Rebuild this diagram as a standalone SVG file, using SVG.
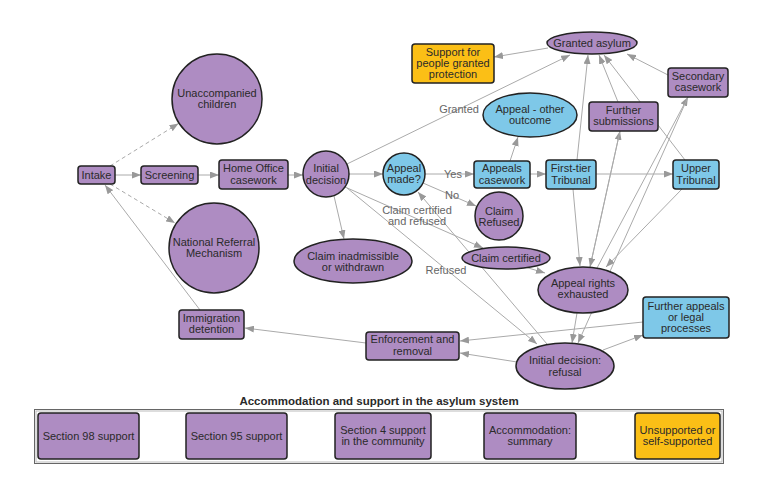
<svg xmlns="http://www.w3.org/2000/svg" width="768" height="495" viewBox="0 0 768 495">
<defs>
<style>
.p{fill:#ae8cc2;stroke:#222;stroke-width:1.5}
.b{fill:#7ec8e8;stroke:#222;stroke-width:1.5}
.o{fill:#fbbf16;stroke:#222;stroke-width:1.5}
text{font-family:"Liberation Sans",Arial,sans-serif;font-size:11px;fill:#2a2a2a;text-anchor:middle}
.lbl{fill:#666}
.e line{stroke:#aaa;stroke-width:1;marker-end:url(#ah)}
.e line.d{stroke-dasharray:4,3}
</style>
<marker id="ah" markerUnits="userSpaceOnUse" markerWidth="9" markerHeight="7" refX="9" refY="3.5" orient="auto">
<path d="M0,0 L9,3.5 L0,7 z" fill="#999"/>
</marker>
</defs>
<rect width="768" height="495" fill="#fff"/>
<g id="connectors" class="e">
<line x1="115" y1="175" x2="141" y2="175"/>
<line x1="198" y1="175" x2="219" y2="175"/>
<line x1="288" y1="175" x2="303" y2="175"/>
<line class="d" x1="110" y1="166" x2="178.5" y2="123.5"/>
<line class="d" x1="110" y1="184" x2="175" y2="223"/>
<line x1="200" y1="310" x2="105" y2="185"/>
<line x1="366" y1="343" x2="245" y2="328"/>
<line x1="349" y1="174" x2="383" y2="174"/>
<line x1="425" y1="174" x2="474" y2="174"/>
<line x1="423" y1="183" x2="476" y2="206"/>
<line x1="510" y1="161" x2="518" y2="137"/>
<line x1="530" y1="174" x2="546" y2="174"/>
<line x1="596" y1="174" x2="673" y2="174"/>
<line x1="347" y1="164" x2="570" y2="55"/>
<line x1="548" y1="48" x2="494" y2="57"/>
<line x1="334" y1="196" x2="344" y2="239"/>
<line x1="345" y1="187" x2="483" y2="248"/>
<line x1="347" y1="188" x2="537" y2="344"/>
<line x1="547" y1="344" x2="418" y2="192"/>
<line x1="525" y1="267" x2="545" y2="273"/>
<line x1="573" y1="189" x2="580" y2="266"/>
<line x1="577" y1="160" x2="588" y2="55"/>
<line x1="618" y1="102" x2="599" y2="55"/>
<line x1="685" y1="160" x2="604" y2="55"/>
<line x1="668" y1="75" x2="627" y2="54"/>
<line x1="590" y1="267" x2="620" y2="131"/>
<line x1="620" y1="131" x2="590" y2="267"/>
<line x1="682" y1="189" x2="606" y2="267"/>
<line x1="597" y1="268" x2="688" y2="97"/>
<line x1="688" y1="97" x2="578" y2="343"/>
<line x1="577" y1="313" x2="572" y2="343"/>
<line x1="603" y1="350" x2="643" y2="335"/>
<line x1="643" y1="322" x2="460" y2="341"/>
<line x1="517" y1="362" x2="460" y2="353"/>
</g>
<g id="edge-labels">
<text class="lbl" x="459" y="113">Granted</text>
<text class="lbl" x="453" y="178">Yes</text>
<text class="lbl" x="452" y="199">No</text>
<text class="lbl" x="417" y="214">Claim certified</text>
<text class="lbl" x="417" y="225">and refused</text>
<text class="lbl" x="446" y="274">Refused</text>
</g>
<g id="intake"><rect class="p" x="78" y="166" width="37" height="18" rx="3"/><text x="96.5" y="179">Intake</text></g>
<g id="screening"><rect class="p" x="141" y="166" width="57" height="18" rx="3"/><text x="169.5" y="179">Screening</text></g>
<g id="home-office-casework"><rect class="p" x="219" y="160" width="69" height="29" rx="3"/><text x="253.5" y="172">Home Office</text><text x="253.5" y="184">casework</text></g>
<g id="initial-decision"><circle class="p" cx="326" cy="174" r="23"/><text x="326" y="172">Initial</text><text x="326" y="184">decision</text></g>
<g id="unaccompanied-children"><circle class="p" cx="217" cy="99" r="45"/><text x="217" y="97">Unaccompanied</text><text x="217" y="108">children</text></g>
<g id="national-referral-mechanism"><circle class="p" cx="214" cy="248" r="45"/><text x="214" y="246">National Referral</text><text x="214" y="257">Mechanism</text></g>
<g id="immigration-detention"><rect class="p" x="179" y="310" width="65" height="29" rx="3"/><text x="211.5" y="322">Immigration</text><text x="211.5" y="333">detention</text></g>
<g id="support-granted"><rect class="o" x="412" y="44" width="82" height="39" rx="3"/><text x="453" y="56">Support for</text><text x="453" y="67">people granted</text><text x="453" y="78">protection</text></g>
<g id="granted-asylum"><ellipse class="p" cx="592" cy="43" rx="45" ry="11"/><text x="592" y="47">Granted asylum</text></g>
<g id="appeal-other-outcome"><ellipse class="b" cx="530" cy="115" rx="47" ry="22"/><text x="530" y="113">Appeal - other</text><text x="530" y="124">outcome</text></g>
<g id="appeal-made"><circle class="b" cx="404" cy="174" r="21"/><text x="404" y="172">Appeal</text><text x="404" y="183">made?</text></g>
<g id="appeals-casework"><rect class="b" x="474" y="161" width="56" height="27" rx="3"/><text x="502" y="172">Appeals</text><text x="502" y="184">casework</text></g>
<g id="first-tier-tribunal"><rect class="b" x="546" y="160" width="50" height="29" rx="3"/><text x="571" y="172">First-tier</text><text x="571" y="184">Tribunal</text></g>
<g id="upper-tribunal"><rect class="b" x="673" y="160" width="46" height="29" rx="3"/><text x="696" y="172">Upper</text><text x="696" y="184">Tribunal</text></g>
<g id="further-submissions"><rect class="p" x="589" y="102" width="69" height="29" rx="3"/><text x="623.5" y="114">Further</text><text x="623.5" y="125">submissions</text></g>
<g id="secondary-casework"><rect class="p" x="668" y="68" width="60" height="29" rx="3"/><text x="698" y="80">Secondary</text><text x="698" y="91">casework</text></g>
<g id="claim-refused"><circle class="p" cx="499" cy="216" r="24"/><text x="499" y="215">Claim</text><text x="499" y="226">Refused</text></g>
<g id="claim-inadmissible"><ellipse class="p" cx="353" cy="261" rx="59" ry="22"/><text x="353" y="260">Claim inadmissible</text><text x="353" y="271">or withdrawn</text></g>
<g id="claim-certified"><ellipse class="p" cx="506" cy="258" rx="44" ry="11"/><text x="506" y="262">Claim certified</text></g>
<g id="appeal-rights-exhausted"><ellipse class="p" cx="583" cy="290" rx="45" ry="23"/><text x="583" y="287">Appeal rights</text><text x="583" y="298">exhausted</text></g>
<g id="further-appeals"><rect class="b" x="643" y="297" width="86" height="41" rx="3"/><text x="686" y="310">Further appeals</text><text x="686" y="321">or legal</text><text x="686" y="332">processes</text></g>
<g id="initial-decision-refusal"><ellipse class="p" cx="565" cy="366" rx="49" ry="23"/><text x="565" y="364">Initial decision:</text><text x="565" y="376">refusal</text></g>
<g id="enforcement-removal"><rect class="p" x="366" y="332" width="93" height="28" rx="3"/><text x="412.5" y="343">Enforcement and</text><text x="412.5" y="355">removal</text></g>
<g id="legend">
<text x="379" y="405" style="font-weight:bold;font-size:11.5px">Accommodation and support in the asylum system</text>
<rect x="34.5" y="409.5" width="689" height="54" fill="none" stroke="#666" stroke-width="1"/>
<rect x="36" y="411" width="686" height="51" fill="none" stroke="#bbb" stroke-width="1"/>
<g id="section-98"><rect class="p" x="38" y="413" width="101" height="46" rx="3"/><text x="88.5" y="440">Section 98 support</text></g>
<g id="section-95"><rect class="p" x="186" y="413" width="101" height="46" rx="3"/><text x="236.5" y="440">Section 95 support</text></g>
<g id="section-4"><rect class="p" x="335" y="413" width="96" height="46" rx="3"/><text x="383" y="434">Section 4 support</text><text x="383" y="445">in the community</text></g>
<g id="accommodation-summary"><rect class="p" x="484" y="413" width="92" height="46" rx="3"/><text x="530" y="434">Accommodation:</text><text x="530" y="445">summary</text></g>
<g id="unsupported"><rect class="o" x="635" y="413" width="85" height="46" rx="3"/><text x="677.5" y="434">Unsupported or</text><text x="677.5" y="445">self-supported</text></g>
</g>
</svg>
